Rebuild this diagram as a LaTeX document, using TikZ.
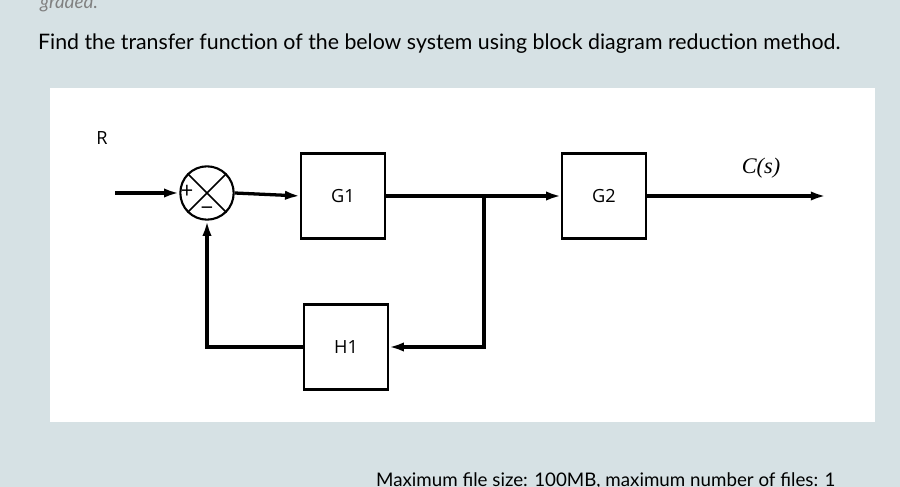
\documentclass[tikz,border=0pt]{standalone}
\usepackage{fontspec}
\setmainfont{Liberation Serif}
\newfontfamily\uifont{Lato}
\newfontfamily\boxfont{Open Sans}
\usetikzlibrary{arrows.meta}
\begin{document}
\begin{tikzpicture}[x=0.03cm,y=-0.03cm,
  blk/.style={draw,line width=1.8pt,minimum width=2.5cm,minimum height=2.55cm,font=\boxfont\fontsize{15.5}{18}\selectfont},
  wire/.style={line width=2.8pt},
  arr/.style={wire,-{Latex[length=13pt,width=8pt]}}]
\fill[fill={rgb,255:red,214;green,225;blue,228}] (0,0) rectangle (900,487);
\useasboundingbox (0,0) rectangle (900,487);
\fill[white] (50,88) rectangle (875,422);
\node[anchor=west,text=gray,font=\uifont\itshape\fontsize{16}{18}\selectfont] (gr) at (36,3) {graded.};
\node[anchor=west,font=\uifont\fontsize{18.2}{21}\selectfont] (title) at (34,44) {Find the transfer function of the below system using block diagram reduction method.};
\node[anchor=west,font=\uifont\fontsize{16}{18}\selectfont] (foot) at (372,481) {Maximum file size: 100MB, maximum number of files: 1};
\node[font=\boxfont\fontsize{15.5}{18}\selectfont] (R) at (102,138) {R};
\node[draw,circle,line width=1.8pt,minimum size=1.6cm] (S) at (207,193) {};
\draw[line width=1.4pt] (S.north west) -- (S.south east) (S.north east) -- (S.south west);
\node[inner sep=0pt] (plus) at (187,192) {\boxfont\fontsize{19}{20}\selectfont +};
\node[inner sep=0pt] (minus) at (207,211) {\boxfont\fontsize{19}{20}\selectfont −};
\node[blk] (G1) at (343,196) {G1};
\node[blk] (G2) at (604,196) {G2};
\node[blk] (H1) at (346,347) {H1};
\node[font=\itshape\fontsize{19}{21}\selectfont] (C) at (761,168) {C(s)};
\coordinate (in) at (115,193);
\coordinate (br) at (484,196);
\coordinate (out) at (826,196);
\draw[arr] (in) -- (S.west);
\draw[arr] (S.east) -- (G1.west);
\draw[arr] (G1.east) -- (G2.west);
\draw[arr] (G2.east) -- (out);
\draw[arr] (br) |- (H1.east);
\draw[arr] (H1.west) -| (S.south);
\end{tikzpicture}
\end{document}
